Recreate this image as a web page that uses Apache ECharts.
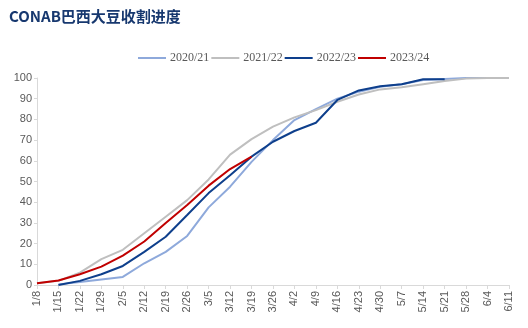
<!DOCTYPE html>
<html><head><meta charset="utf-8">
<script src="https://cdn.jsdelivr.net/npm/echarts@6/dist/echarts.min.js"></script>
<style>html,body{margin:0;padding:0;background:#fff}#c{width:528px;height:328px}</style>
</head><body><div id="c"></div>
<script>
const categories = ['1/8','1/15','1/22','1/29','2/5','2/12','2/19','2/26','3/5','3/12','3/19','3/26','4/2','4/9','4/16','4/23','4/30','5/7','5/14','5/21','5/28','6/4','6/11'];
const s2020 = [null,0.3,1.4,2.7,3.9,10.5,16,23.7,37.5,47.5,59.5,70,79.7,85,90,93.4,95.8,97,99,99.5,100,100,null];
const s2021 = [0.8,2,6,12.5,17,25,33,41,51,63,70.5,76.5,81,84.5,88.5,92,94.5,95.5,97,98.5,99.7,100,100];
const s2022 = [null,0,2,5.2,9.2,16,23.3,33.8,44.4,53,62,69.2,74.4,78.4,89.4,94,96,97,99.4,99.4,null,null,null];
const s2023 = [0.8,2.2,5.2,8.9,14.2,21,30,38.6,48,56,62,null,null,null,null,null,null,null,null,null,null,null,null];
const seriesNames = ['2020/21','2021/22','2022/23','2023/24'];
const colors = ['#8EA9DB','#BFBFBF','#0E3F8C','#C00000'];
const yTicks = {min:0,max:100,interval:10};

const chart = echarts.init(document.getElementById('c'));
const datas = [s2020,s2021,s2022,s2023];
chart.setOption({
  animation:false,
  title:{text:'CONAB巴西大豆收割进度',left:4,top:4,textStyle:{fontSize:15,fontWeight:'bold',color:'#17386F',fontFamily:'Noto Sans CJK SC'}},
  legend:{left:133,top:47,icon:'rect',itemWidth:28,itemHeight:2,itemGap:2,
    data:seriesNames,
    textStyle:{fontFamily:'Liberation Serif',fontSize:12,color:'#595959',padding:[0,0,0,-1]}},
  grid:{left:37,right:19,top:78,bottom:43,containLabel:false},
  xAxis:{type:'category',data:categories,boundaryGap:false,
    axisLine:{lineStyle:{color:'#D9D9D9'}},
    axisTick:{show:true,alignWithLabel:true,lineStyle:{color:'#D9D9D9'},length:4},
    axisLabel:{rotate:90,fontSize:11,color:'#595959',margin:6,interval:0,fontFamily:'Liberation Sans'}},
  yAxis:{type:'value',min:yTicks.min,max:yTicks.max,interval:yTicks.interval,
    splitLine:{show:false},
    axisLine:{show:true,lineStyle:{color:'#D9D9D9'}},
    axisTick:{show:true,length:3,lineStyle:{color:'#D9D9D9'}},
    axisLabel:{fontSize:11,color:'#595959',margin:5,fontFamily:'Liberation Sans'}},
  series:datas.map((d,i)=>({name:seriesNames[i],type:'line',data:d,showSymbol:false,symbol:'none',
    lineStyle:{width:2,color:colors[i]},itemStyle:{color:colors[i]},z:i+2}))
});
</script></body></html>
